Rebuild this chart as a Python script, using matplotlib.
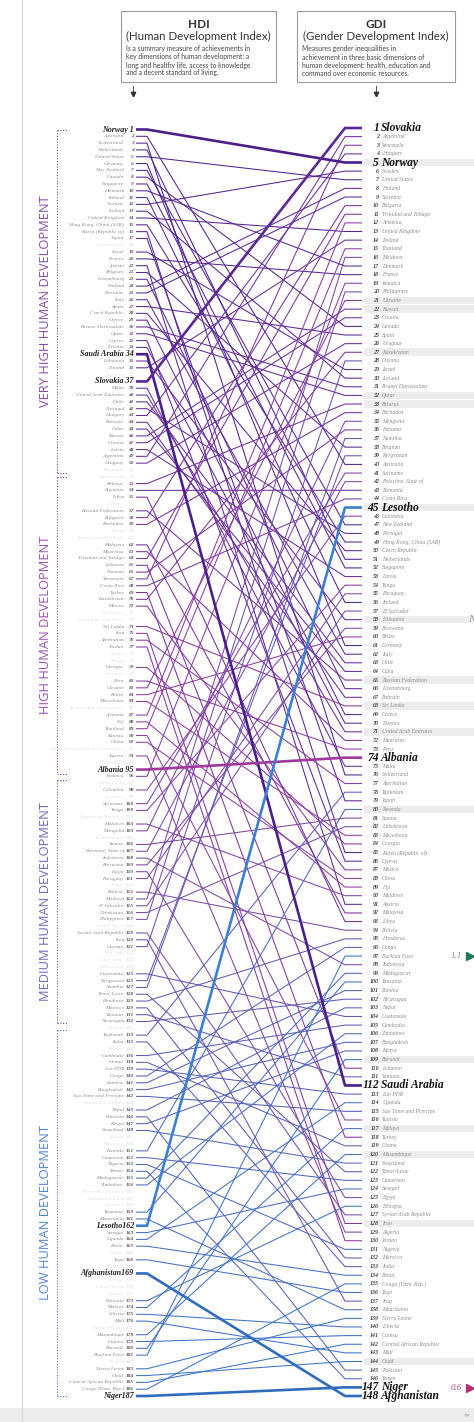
import numpy as np
import matplotlib.pyplot as plt
from matplotlib.colors import LinearSegmentedColormap

# HDI ranking (left column), greyed entries have no GDI value
hdi_names = [
    "Norway", "Australia", "Switzerland", "Netherlands", "United States", "Germany", "New Zealand",
    "Canada", "Singapore", "Denmark", "Ireland", "Sweden", "Iceland", "United Kingdom",
    "Hong Kong, China (SAR)", "Korea (Republic of)", "Japan", "Liechtenstein", "Israel", "France",
    "Austria", "Belgium", "Luxembourg", "Finland", "Slovenia", "Italy", "Spain", "Czech Republic",
    "Greece", "Brunei Darussalam", "Qatar", "Cyprus", "Estonia", "Saudi Arabia", "Lithuania",
    "Poland", "Andorra", "Slovakia", "Malta", "United Arab Emirates", "Chile", "Portugal", "Hungary",
    "Bahrain", "Cuba", "Kuwait", "Croatia", "Latvia", "Argentina", "Uruguay", "Bahamas",
    "Montenegro", "Belarus", "Romania", "Libya", "Oman", "Russian Federation", "Bulgaria",
    "Barbados", "Palau", "Antigua and Barbuda", "Malaysia", "Mauritius", "Trinidad and Tobago",
    "Lebanon", "Panama", "Venezuela", "Costa Rica", "Turkey", "Kazakhstan", "Mexico", "Seychelles",
    "Saint Kitts and Nevis", "Sri Lanka", "Iran", "Azerbaijan", "Jordan", "Serbia", "Brazil",
    "Georgia", "Grenada", "Peru", "Ukraine", "Belize", "Macedonia", "Bosnia and Herzegovina",
    "Armenia", "Fiji", "Thailand", "Tunisia", "China", "Saint Vincent and the Grenadines", "Algeria",
    "Dominica", "Albania", "Jamaica", "Saint Lucia", "Colombia", "Ecuador", "Suriname", "Tonga",
    "Dominican Republic", "Maldives", "Mongolia", "Turkmenistan", "Samoa", "Palestine, State of",
    "Indonesia", "Botswana", "Egypt", "Paraguay", "Gabon", "Bolivia", "Moldova", "El Salvador",
    "Uzbekistan", "Philippines", "South Africa", "Syrian Arab Republic", "Iraq", "Guyana",
    "Viet Nam", "Cape Verde", "Micronesia", "Guatemala", "Kyrgyzstan", "Namibia", "Timor-Leste",
    "Honduras", "Morocco", "Vanuatu", "Nicaragua", "Kiribati", "Tajikistan", "India", "Bhutan",
    "Cambodia", "Ghana", "Lao PDR", "Congo", "Zambia", "Bangladesh", "Sao Tome and Principe",
    "Equatorial Guinea", "Nepal", "Pakistan", "Kenya", "Swaziland", "Angola", "Myanmar", "Rwanda",
    "Cameroon", "Nigeria", "Yemen", "Madagascar", "Zimbabwe", "Papua New Guinea",
    "Solomon Islands", "Comoros", "Tanzania", "Mauritania", "Lesotho", "Senegal", "Uganda", "Benin",
    "Sudan", "Togo", "Haiti", "Afghanistan", "Djibouti", "Côte d'Ivoire", "Gambia", "Ethiopia",
    "Malawi", "Liberia", "Mali", "Guinea-Bissau", "Mozambique", "Guinea", "Burundi", "Burkina Faso",
    "Eritrea", "Sierra Leone", "Chad", "Central African Republic", "Congo (Dem. Rep.)", "Niger",
]
hdi_ranks = [
    1, 2, 3, 4, 5, 6, 7, 8, 9, 10, 11, 12, 13, 14, 15, 15, 17, 18, 19, 20, 21, 21, 21, 24, 25, 26,
    27, 28, 29, 30, 31, 32, 33, 34, 35, 35, 37, 37, 39, 40, 41, 41, 43, 44, 44, 46, 47, 48, 49, 50,
    51, 51, 53, 54, 55, 56, 57, 58, 59, 60, 61, 62, 63, 64, 65, 65, 67, 68, 69, 70, 71, 71, 73, 73,
    75, 76, 77, 77, 79, 79, 79, 82, 83, 84, 84, 86, 87, 88, 89, 90, 91, 91, 93, 93, 95, 96, 97, 98,
    98, 100, 100, 102, 103, 103, 103, 106, 107, 108, 109, 110, 111, 112, 113, 114, 115, 116, 117,
    118, 118, 120, 121, 121, 123, 124, 125, 125, 127, 128, 129, 129, 131, 132, 133, 133, 135, 136,
    136, 138, 139, 140, 141, 142, 142, 144, 145, 146, 147, 148, 149, 150, 151, 152, 152, 154, 155,
    156, 157, 157, 159, 159, 161, 162, 163, 164, 165, 166, 166, 168, 169, 170, 171, 172, 173, 174,
    175, 176, 177, 178, 179, 180, 181, 182, 183, 184, 185, 186, 187,
]

# GDI ranking (right column), rank = position + 1
gdi_names = [
    "Slovakia", "Argentina", "Venezuela", "Hungary", "Norway", "Sweden", "United States", "Finland",
    "Slovenia", "Bulgaria", "Trinidad and Tobago", "Armenia", "United Kingdom", "Poland",
    "Thailand", "Moldova", "Denmark", "France", "Jamaica", "Philippines", "Ukraine", "Kuwait",
    "Croatia", "Canada", "Spain", "Uruguay", "Kazakhstan", "Guyana", "Israel", "Iceland",
    "Brunei Darussalam", "Qatar", "Belarus", "Barbados", "Mongolia", "Panama", "Namibia",
    "Belgium", "Kyrgyzstan", "Australia", "Suriname", "Palestine, State of", "Romania",
    "Costa Rica", "Lesotho", "Colombia", "New Zealand", "Portugal", "Hong Kong, China (SAR)",
    "Czech Republic", "Netherlands", "Singapore", "Latvia", "Tonga", "Paraguay", "Ireland",
    "El Salvador", "Lithuania", "Botswana", "Belize", "Germany", "Italy", "Chile", "Cuba",
    "Russian Federation", "Luxembourg", "Bahrain", "Sri Lanka", "Greece", "Estonia",
    "United Arab Emirates", "Mauritius", "Peru", "Albania", "Malta", "Switzerland", "Azerbaijan",
    "Tajikistan", "Japan", "Rwanda", "Samoa", "Uzbekistan", "Macedonia", "Georgia",
    "Korea (Republic of)", "Cyprus", "Mexico", "China", "Fiji", "Maldives", "Austria", "Malaysia",
    "Libya", "Bolivia", "Honduras", "Congo", "Burkina Faso", "Indonesia", "Madagascar", "Tanzania",
    "Zambia", "Nicaragua", "Nepal", "Guatemala", "Cambodia", "Zimbabwe", "Bangladesh", "Kenya",
    "Burundi", "Lebanon", "Vanuatu", "Saudi Arabia", "Lao PDR", "Uganda", "Sao Tome and Principe",
    "Tunisia", "Malawi", "Turkey", "Ghana", "Mozambique", "Swaziland", "Timor-Leste", "Cameroon",
    "Senegal", "Egypt", "Ethiopia", "Syrian Arab Republic", "Iran", "Algeria", "Jordan", "Nigeria",
    "Morocco", "India", "Benin", "Congo (Dem. Rep.)", "Togo", "Iraq", "Mauritania", "Sierra Leone",
    "Liberia", "Guinea", "Central African Republic", "Mali", "Chad", "Pakistan", "Yemen", "Niger",
    "Afghanistan",
]

highlight = ["Norway", "Saudi Arabia", "Slovakia", "Albania", "Lesotho", "Afghanistan", "Niger"]
highlight_colors = {"Norway": "#4a1f8c", "Saudi Arabia": "#4a1f8c", "Slovakia": "#5b2895",
                    "Albania": "#a0389e", "Lesotho": "#3b7fd2", "Afghanistan": "#2f6cbd",
                    "Niger": "#2f6cbd"}
shaded_gdi = ["Norway", "Ukraine", "Kuwait", "Kazakhstan", "Qatar", "Belarus", "Lesotho",
              "Lithuania", "Russian Federation", "Sri Lanka", "United Arab Emirates", "Rwanda",
              "Burundi", "Malawi", "Mozambique", "Iran", "Chad"]

groups = ["VERY HIGH HUMAN DEVELOPMENT", "HIGH HUMAN DEVELOPMENT",
          "MEDIUM HUMAN DEVELOPMENT", "LOW HUMAN DEVELOPMENT"]
group_bounds = [(0, 50.5), (51, 94.6), (95.6, 131.2), (132.2, 186)]
group_colors = ["#7a3aa0", "#8e3fa6", "#5a5ab4", "#3d78c8"]

cmap = LinearSegmentedColormap.from_list(
    "hd", [(0.0, "#4e2191"), (0.25, "#6a2e9c"), (0.45, "#8e3c9f"), (0.6, "#7c48a8"),
           (0.72, "#5c5cb8"), (0.85, "#4a6cc2"), (1.0, "#3a74c8")])

W, H = 474, 1422
fig = plt.figure(figsize=(W / 100, H / 100), dpi=100)
ax = fig.add_axes([0, 0, 1, 1])
ax.set_xlim(0, W)
ax.set_ylim(H, 0)
ax.axis("off")

serif = "Liberation Serif"
sans = "Lato"

yl0, yl1 = 129.5, 1396
yr0, yr1 = 128, 1396
n_l, n_r = len(hdi_names), len(gdi_names)
yl = yl0 + np.arange(n_l) * (yl1 - yl0) / (n_l - 1)
yr = yr0 + np.arange(n_r) * (yr1 - yr0) / (n_r - 1)
gdi_pos = {c: i for i, c in enumerate(gdi_names)}

# page decorations
ax.axvline(22, color="#d8d8d8", lw=0.8)
ax.add_patch(plt.Rectangle((0, 1408), W, 14, color="#ececec", lw=0))

# header boxes
def header(x0, x1, title, sub, lines, ax_x):
    ax.add_patch(plt.Rectangle((x0, 11), x1 - x0, 71, fill=False, ec="#9a9a9a", lw=0.8))
    cx = (x0 + x1) / 2
    ax.text(cx, 24, title, ha="center", va="center", fontsize=8.5, fontweight="bold",
            family=sans, color="#333333")
    ax.text(cx, 36, sub, ha="center", va="center", fontsize=8.3, family=sans, color="#333333")
    for k, ln in enumerate(lines):
        ax.text(x0 + 5, 49 + k * 8, ln, ha="left", va="center", fontsize=4.9, family=sans,
                color="#444444")
    ax.plot([ax_x, ax_x], [86, 92], color="#333333", lw=0.6)
    ax.plot(ax_x, 94, marker="v", color="#333333", ms=3.2)

header(121, 276, "HDI", "(Human Development Index)",
       ["Is a summary measure of achievements in",
        "key dimensions of human development: a",
        "long and healthy life, access to knowledge",
        "and a decent standard of living."], 133)
header(297, 455, "GDI", "(Gender Development Index)",
       ["Measures gender inequalities in",
        "achievement in three basic dimensions of",
        "human development: health, education and",
        "command over economic resources."], 376)

# shaded rows on the right
for c in shaded_gdi:
    j = gdi_pos[c]
    ax.add_patch(plt.Rectangle((364, yr[j] - 3.8), W - 364, 7.6, color="#ececec", lw=0, zorder=0))

# connecting lines
xl_a, xl_b, xr_a, xr_b = 136, 147, 345, 362
def draw_line(i, lw, color, z):
    j = gdi_pos[hdi_names[i]]
    ax.plot([xl_a, xl_b, xr_a, xr_b], [yl[i], yl[i], yr[j], yr[j]], color=color, lw=lw,
            solid_capstyle="butt", solid_joinstyle="round", zorder=z)

for i, c in enumerate(hdi_names):
    if c in gdi_pos and c not in highlight:
        draw_line(i, 0.75, cmap(i / (n_l - 1)), 2)
for i, c in enumerate(hdi_names):
    if c in highlight:
        draw_line(i, 1.9, highlight_colors[c], 3)

# left labels
for i, (c, r) in enumerate(zip(hdi_names, hdi_ranks)):
    if c in highlight:
        sep = "" if r >= 100 else " "
        ax.text(134, yl[i], f"{c}{sep}{r}", ha="right", va="center", fontsize=5.8,
                family=serif, style="italic", fontweight="bold", color="#222222")
    elif c in gdi_pos:
        ax.text(124, yl[i], c, ha="right", va="center", fontsize=3.9, family=serif,
                style="italic", color="#8a8a8a")
        ax.text(134, yl[i], str(r), ha="right", va="center", fontsize=3.9, family=serif,
                style="italic", fontweight="bold", color="#555555")
    else:
        ax.text(124, yl[i], c, ha="right", va="center", fontsize=3.9, family=serif,
                style="italic", color="#e2e2e2")
        ax.text(134, yl[i], str(r), ha="right", va="center", fontsize=3.9, family=serif,
                style="italic", fontweight="bold", color="#e2e2e2")

# right labels
for j, c in enumerate(gdi_names):
    if c in highlight:
        ax.text(379, yr[j], str(j + 1), ha="right", va="center", fontsize=8.3, family=serif,
                style="italic", fontweight="bold", color="#111111")
        ax.text(381, yr[j], c, ha="left", va="center", fontsize=8.3, family=serif,
                style="italic", fontweight="bold", color="#111111")
    else:
        ax.text(379, yr[j], str(j + 1), ha="right", va="center", fontsize=4.3, family=serif,
                style="italic", fontweight="bold", color="#444444")
        ax.text(382, yr[j], c, ha="left", va="center", fontsize=4.1, family=serif,
                style="italic", color="#8a8a8a")

# development groups
for name, (a, b), col in zip(groups, group_bounds, group_colors):
    ya = yl0 + a * (yl1 - yl0) / (n_l - 1)
    yb = yl0 + b * (yl1 - yl0) / (n_l - 1)
    ax.plot([57, 57], [ya, yb], color=col, lw=0.8, ls=(0, (1, 1.5)))
    ax.plot([57, 68], [ya, ya], color=col, lw=0.8, ls=(0, (1, 1.5)))
    ax.plot([57, 68], [yb, yb], color=col, lw=0.8, ls=(0, (1, 1.5)))
    ax.text(46, (ya + yb) / 2, name, rotation=90, ha="center", va="center", fontsize=9.3,
            family="Open Sans", color=col, alpha=0.9)

# partial elements cut at the right edge
ax.text(462, yr[96], "1.1", ha="right", va="center", fontsize=6.5, family=serif,
        style="italic", color="#888888")
ax.plot(470, yr[96], marker=">", color="#1f7a5a", ms=6)
ax.text(462, 1388, "0.6", ha="right", va="center", fontsize=6.5, family=serif,
        style="italic", color="#b04080")
ax.plot(470, 1388, marker=">", color="#b0307a", ms=6)
ax.text(468, 620, "N", ha="left", va="center", fontsize=8, family=serif, style="italic",
        color="#999999")
ax.text(470, 1415, "Age", ha="right", va="center", fontsize=3.2, family=serif,
        style="italic", color="#888888")

fig.savefig("out.png", dpi=100)
